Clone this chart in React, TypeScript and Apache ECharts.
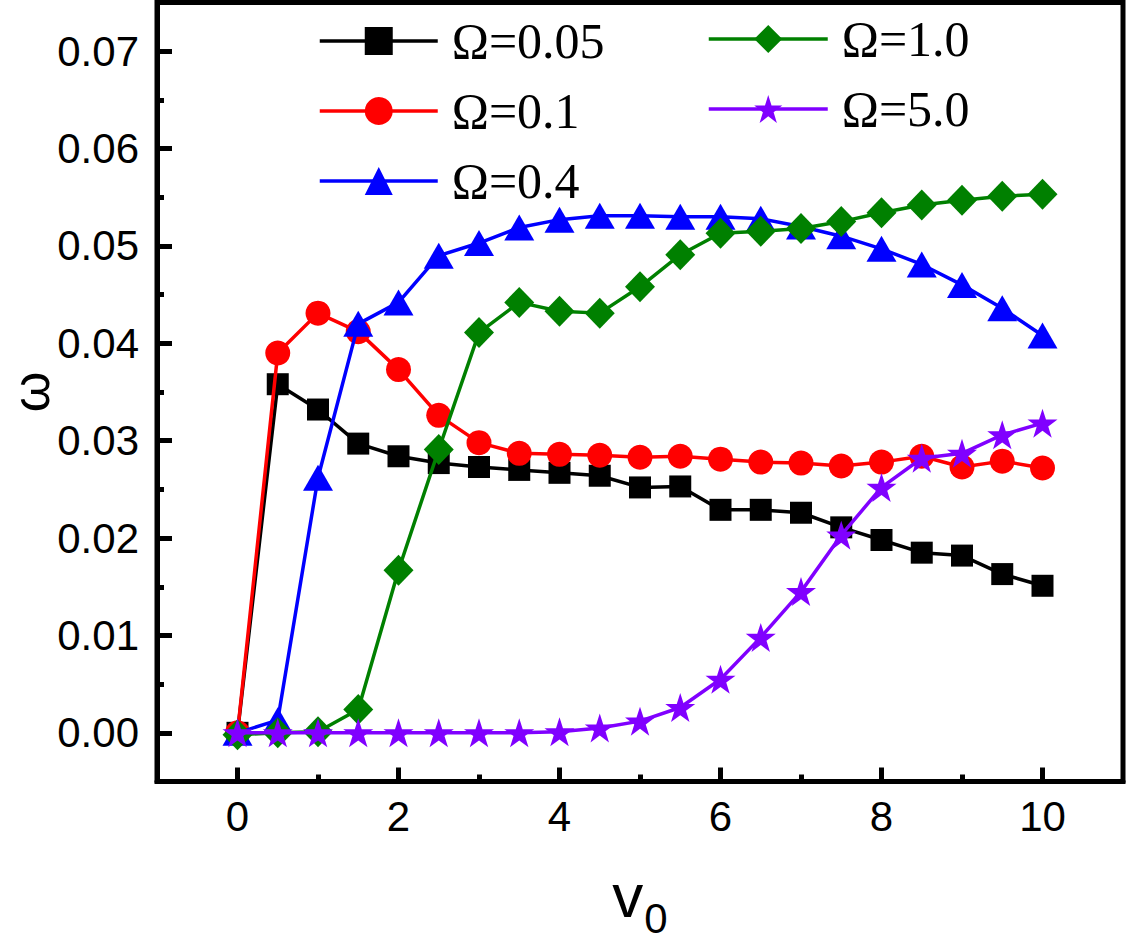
import React, { useEffect, useRef } from "react";
import * as echarts from "echarts";

// Driving speed v0 (shared by every curve)
const v0 = [0, 0.5, 1, 1.5, 2, 2.5, 3, 3.5, 4, 4.5, 5, 5.5, 6, 6.5, 7, 7.5, 8, 8.5, 9, 9.5, 10];

// Angular velocity ω for each Ω
const omega005 = [0, 0.0358, 0.0332, 0.0297, 0.0284, 0.0277, 0.0273, 0.027, 0.0267, 0.0264, 0.0252, 0.0253, 0.0229, 0.0229, 0.0226, 0.0211, 0.0198, 0.0185, 0.0182, 0.0163, 0.0151];
const omega01 = [0, 0.039, 0.0431, 0.0412, 0.0373, 0.0326, 0.0298, 0.0287, 0.0286, 0.0285, 0.0283, 0.0284, 0.0281, 0.0278, 0.0277, 0.0274, 0.0278, 0.0284, 0.0273, 0.0279, 0.0272];
const omega04 = [0, 0.0013, 0.0262, 0.042, 0.0442, 0.049, 0.0503, 0.0519, 0.0527, 0.0531, 0.0531, 0.053, 0.053, 0.0528, 0.052, 0.051, 0.0497, 0.0481, 0.046, 0.0436, 0.0408];
const omega10 = [-0.0002, 0, 0.0001, 0.0024, 0.0167, 0.0291, 0.0411, 0.0442, 0.0433, 0.0431, 0.0458, 0.0491, 0.0513, 0.0515, 0.0518, 0.0525, 0.0534, 0.0542, 0.0547, 0.0551, 0.0553];
const omega50 = [0, 0, 0, 0, 0, 0, 0, 0, 0.0001, 0.0005, 0.0012, 0.0026, 0.0055, 0.0098, 0.0145, 0.0203, 0.0252, 0.0282, 0.0287, 0.0306, 0.0318];

const seriesNames = ["Ω=0.05", "Ω=0.1", "Ω=0.4", "Ω=1.0", "Ω=5.0"];
const seriesValues = [omega005, omega01, omega04, omega10, omega50];
const seriesColors = ["#000000", "#ff0000", "#0000ff", "#008000", "#8000ff"];
const seriesSymbols = ["rect", "circle", "triangle", "diamond", "path://M12,0 L14.8,8.6 L24,8.6 L16.6,14 L19.4,22.8 L12,17.4 L4.6,22.8 L7.4,14 L0,8.6 L9.2,8.6 Z"];
const seriesSymbolSizes: any[] = [22, 25, [30, 26], [30, 31], [30, 29]];

// Axis ticks
const xMajor = [0, 2, 4, 6, 8, 10];
const xMinor = [1, 3, 5, 7, 9];
const yMajor = [0, 0.01, 0.02, 0.03, 0.04, 0.05, 0.06, 0.07];
const yMinor = [0.005, 0.015, 0.025, 0.035, 0.045, 0.055, 0.065];

const SANS = "'Liberation Sans', Arial, sans-serif";
const SERIF = "'Liberation Serif', 'Times New Roman', serif";

export default function App() {
  const ref = useRef<HTMLDivElement>(null);

  useEffect(() => {
    if (!ref.current) return;
    const chart = echarts.init(ref.current, null, { renderer: "svg" });

    const legendText = {
      fontFamily: SERIF,
      fontSize: 50,
      lineHeight: 50,
      color: "#000",
      padding: [0, 0, 0, 9],
    };

    const series = seriesNames.map((name, i) => ({
      name,
      type: "line",
      xAxisIndex: 0,
      yAxisIndex: 0,
      data: v0.map((x, k) => [x, seriesValues[i][k]]),
      symbol: seriesSymbols[i],
      symbolSize: seriesSymbolSizes[i],
      showAllSymbol: true,
      lineStyle: { color: seriesColors[i], width: 3.5 },
      itemStyle: { color: seriesColors[i], borderWidth: 0 },
      emphasis: { disabled: true },
      z: 2 + i,
    }));

    const baseX = {
      type: "value",
      min: -1,
      max: 11,
      gridIndex: 0,
      position: "bottom",
      splitLine: { show: false },
    };
    const baseY = {
      type: "value",
      min: -0.005,
      max: 0.075,
      gridIndex: 0,
      position: "left",
      splitLine: { show: false },
    };

    const legendCommon = {
      orient: "vertical",
      itemHeight: 35,
      itemGap: 20,
      padding: 0,
      selectedMode: false,
      lineStyle: { width: 3.5 },
      itemStyle: { borderWidth: 0 },
      textStyle: legendText,
    };

    chart.setOption({
      animation: false,
      backgroundColor: "#ffffff",
      grid: {
        left: 157,
        right: 4,
        top: 2.5,
        bottom: 162.5,
        containLabel: false,
        outerBoundsMode: "none",
        show: true,
        borderColor: "#000",
        borderWidth: 5,
        backgroundColor: "transparent",
      },
      legend: [
        { ...legendCommon, data: seriesNames.slice(0, 3), left: 318, top: 16, itemWidth: 118 },
        { ...legendCommon, data: seriesNames.slice(3), left: 707, top: 14, itemWidth: 119 },
      ],
      xAxis: [
        {
          ...baseX,
          name: "{v|v}{s|0}",
          nameLocation: "middle",
          nameGap: 100,
          nameTextStyle: {
            rich: {
              v: { fontFamily: SANS, fontSize: 62, color: "#000", lineHeight: 44, padding: [0, 0, 16, 0] },
              s: { fontFamily: SANS, fontSize: 42, color: "#000", lineHeight: 30, padding: [30, 0, 0, 1] },
            },
          },
          axisLine: { show: true, onZero: false, lineStyle: { color: "#000", width: 5 } },
          axisTick: { show: true, inside: true, length: 14, lineStyle: { color: "#000", width: 5 }, customValues: xMajor },
          axisLabel: {
            show: true,
            customValues: xMajor,
            margin: 14,
            fontFamily: SANS,
            fontSize: 42,
            color: "#000",
            formatter: (v: number) => String(v),
          },
        },
        {
          ...baseX,
          axisLine: { show: false, onZero: false },
          axisTick: { show: true, inside: true, length: 7, lineStyle: { color: "#000", width: 5 }, customValues: xMinor },
          axisLabel: { show: false },
        },
      ],
      yAxis: [
        {
          ...baseY,
          name: "ω",
          nameLocation: "middle",
          nameGap: 110,
          nameMoveOverlap: false,
          nameRotate: 90,
          nameTextStyle: { fontFamily: SANS, fontSize: 52, lineHeight: 32, color: "#000" },
          axisLine: { show: true, onZero: false, lineStyle: { color: "#000", width: 5 } },
          axisTick: { show: true, inside: true, length: 15, lineStyle: { color: "#000", width: 5 }, customValues: yMajor },
          axisLabel: {
            show: true,
            customValues: yMajor,
            margin: 18,
            fontFamily: SANS,
            fontSize: 42,
            color: "#000",
            formatter: (v: number) => v.toFixed(2),
          },
        },
        {
          ...baseY,
          axisLine: { show: false, onZero: false },
          axisTick: { show: true, inside: true, length: 7, lineStyle: { color: "#000", width: 5 }, customValues: yMinor },
          axisLabel: { show: false },
        },
      ],
      series,
    });

    return () => chart.dispose();
  }, []);

  return (
    <div
      ref={ref}
      style={{ position: "fixed", left: 0, top: 0, width: 1127, height: 944, background: "#fff" }}
    />
  );
}
